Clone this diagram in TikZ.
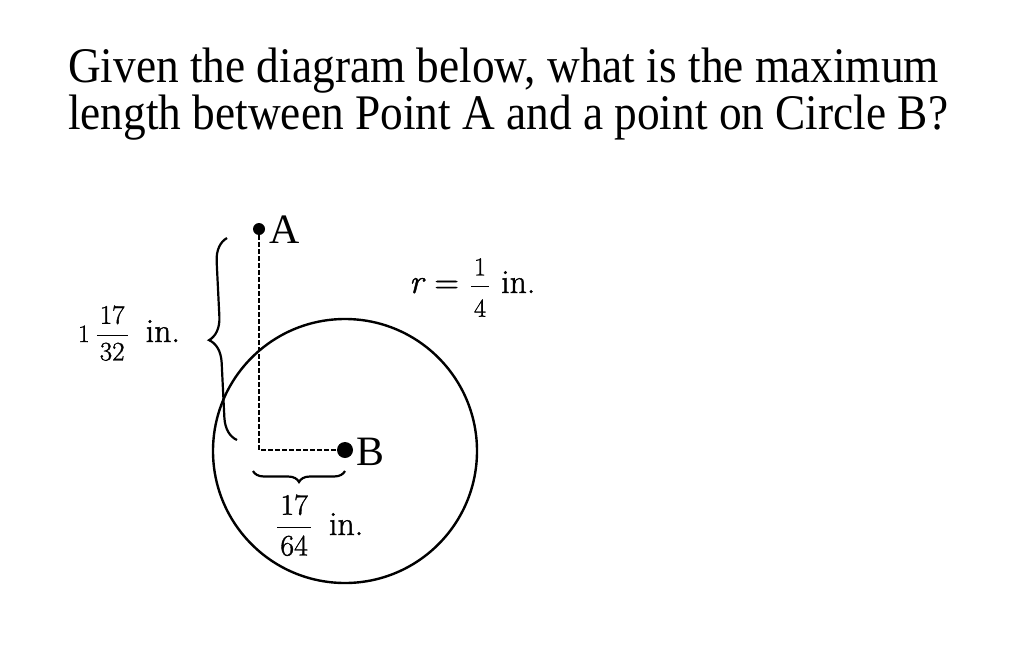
\RequirePackage{fix-cm}
\documentclass[tikz,border=0pt]{standalone}
\usepackage{amsmath}
\usepackage{fontspec}
\newfontfamily\timesfont{Liberation Serif}
\newfontfamily\timesnarrow{Liberation Serif}[FakeStretch=0.91]
\newfontfamily\lmb{Latin Modern Roman}[FakeBold=1.2]
\usetikzlibrary{decorations.pathreplacing,shapes}

\begin{document}
\begin{tikzpicture}
\useasboundingbox (0bp,0bp) rectangle (1024bp,-662bp);

\node (Q1) at (68bp,-82bp)[anchor=base west,inner sep=0pt,font=\timesnarrow\fontsize{50}{60}\selectfont] {Given the diagram below, what is the maximum};
\node (Q2) at (68bp,-129bp)[anchor=base west,inner sep=0pt,font=\timesnarrow\fontsize{50}{60}\selectfont] {length between Point A and a point on Circle B?};

\node (CB) at (345bp,-451bp)[draw,circle,line width=2.4bp,minimum size=264bp] {};
\node (A) at (259bp,-229bp)[circle,fill=black,inner sep=0pt,minimum size=12bp] {};
\node (B) at (345bp,-450bp)[circle,fill=black,inner sep=0pt,minimum size=16bp] {};
\node (LA) at (269bp,-243bp)[anchor=base west,inner sep=0pt,font=\timesfont\fontsize{42}{50}\selectfont] {A};
\node (LB) at (356bp,-465bp)[anchor=base west,inner sep=0pt,font=\timesfont\fontsize{42}{50}\selectfont] {B};
\coordinate (K) at (259bp,-450bp);
\draw [line width=2.4bp,dash pattern=on 4.5bp off 2.5bp] (A) -- (K) -- (B);

\coordinate (V1) at (237bp,-440bp);
\coordinate (V2) at (227bp,-238bp);
\coordinate (H1) at (345bp,-471bp);
\coordinate (H2) at (253bp,-471bp);
\draw [line width=2.2bp,decorate,decoration={brace,amplitude=23bp}] (V1) -- (V2);
\draw [line width=2.2bp,decorate,decoration={brace,amplitude=11bp}] (H1) -- (H2);

\node (DV) at (78bp,-342bp)[anchor=base west,inner sep=0pt,font=\lmb] {\fontsize{25}{30}\selectfont 1\hspace{6bp}\fontsize{27}{32}\selectfont$\genfrac{}{}{1.5bp}{0}{\hspace{3bp}\text{17}\hspace{3bp}}{\hspace{3bp}\text{32}\hspace{3bp}}$\hspace{17bp}\fontsize{34}{40}\selectfont in.};
\node (DH) at (276bp,-535bp)[anchor=base west,inner sep=0pt,font=\lmb] {\fontsize{30}{36}\selectfont$\genfrac{}{}{1.5bp}{0}{\hspace{3bp}\text{17}\hspace{3bp}}{\hspace{3bp}\text{64}\hspace{3bp}}$\hspace{17bp}\fontsize{34}{40}\selectfont in.};
\node (R) at (409bp,-293bp)[anchor=base west,inner sep=0pt,font=\lmb] {\fontsize{34}{40}\selectfont\textit{r}\hspace{9bp}=\hspace{11bp}\fontsize{26}{30}\selectfont$\genfrac{}{}{1.5bp}{0}{\hspace{3bp}\text{1}\hspace{3bp}}{\raisebox{-6bp}{4}}$\hspace{11bp}\fontsize{34}{40}\selectfont in.};
\end{tikzpicture}
\end{document}
